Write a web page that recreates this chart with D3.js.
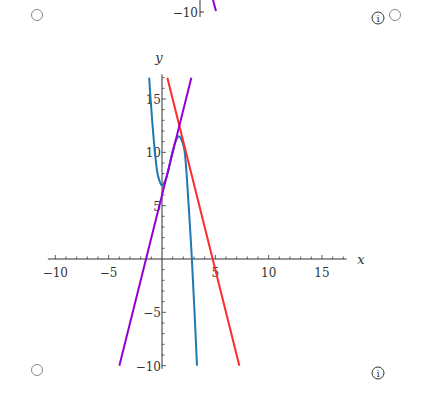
<!DOCTYPE html>
<html><head><meta charset="utf-8">
<script src="https://cdn.jsdelivr.net/npm/d3@7"></script>
<style>body{margin:0;background:#fff}</style>
</head><body>
<svg id="mainsvg" width="431" height="405"></svg>
<script>
const svg = d3.select('#mainsvg');
// data
const purpleLine = [[-4, -10], [2.75, 17]];
const redLine = [[0.5, 17], [7.25, -10]];
const blueCurve = [[-1.2,17],[-1.07,15],[-0.66,10],[-0.35,7.7],[0,6.9],[0.4,7.6],[0.9,9.7],[1.3,11.1],[1.6,11.5],[1.9,11.0],[2.1,10.2],[2.5,5],[2.8,0],[3.05,-5],[3.28,-10]];
const xLabels = [-10, -5, 5, 10, 15];
const yLabels = [-10, -5, 5, 10, 15];

const xScale = d3.scaleLinear().domain([0, 15]).range([162, 322]);
const yScale = d3.scaleLinear().domain([0, 15]).range([259, 99]);
const font = "'DejaVu Serif', serif";

const g = svg.append('g');
// axes lines
g.append('line').attr('x1', xScale(-10.7)).attr('x2', xScale(17.3))
  .attr('y1', yScale(0)).attr('y2', yScale(0)).attr('stroke', '#333');
g.append('line').attr('y1', yScale(-10.3)).attr('y2', yScale(17.3))
  .attr('x1', xScale(0)).attr('x2', xScale(0)).attr('stroke', '#333');

// minor ticks
const xt = d3.range(-10, 18).filter(d => d !== 0);
g.selectAll('.xt').data(xt).join('line')
  .attr('x1', d => xScale(d)).attr('x2', d => xScale(d))
  .attr('y1', yScale(0)).attr('y2', d => yScale(0) - (d % 5 === 0 ? 4 : 2.5))
  .attr('stroke', '#333').attr('stroke-width', 0.8);
const yt = d3.range(-10, 18).filter(d => d !== 0);
g.selectAll('.yt').data(yt).join('line')
  .attr('y1', d => yScale(d)).attr('y2', d => yScale(d))
  .attr('x1', xScale(0)).attr('x2', d => xScale(0) + (d % 5 === 0 ? 4 : 2.5))
  .attr('stroke', '#333').attr('stroke-width', 0.8);

g.selectAll('.xl').data(xLabels).join('text')
  .attr('x', d => xScale(d)).attr('y', yScale(0) + 18)
  .attr('text-anchor', 'middle').attr('font-family', font).attr('font-size', 12).attr('fill', '#333')
  .text(d => d < 0 ? '\u2212' + (-d) : d);
g.selectAll('.yl').data(yLabels).join('text')
  .attr('x', xScale(0) - 1).attr('y', d => yScale(d) + 5)
  .attr('text-anchor', 'end').attr('font-family', font).attr('font-size', 12).attr('fill', '#333')
  .text(d => d < 0 ? '\u2212' + (-d) : d);
g.append('text').attr('x', xScale(18.3)).attr('y', yScale(0) + 5)
  .attr('font-family', font).attr('font-style', 'italic').attr('font-size', 13).attr('fill', '#333').text('x');
g.append('text').attr('x', xScale(0) - 3).attr('y', yScale(18.5)).attr('text-anchor', 'middle')
  .attr('font-family', font).attr('font-style', 'italic').attr('font-size', 13).attr('fill', '#333').text('y');

const line = d3.line().x(d => xScale(d[0])).y(d => yScale(d[1]));
const curve = d3.line().curve(d3.curveCatmullRom).x(d => xScale(d[0])).y(d => yScale(d[1]));
g.append('path').attr('d', curve(blueCurve)).attr('fill', 'none').attr('stroke', '#1f77b4').attr('stroke-width', 2);
g.append('path').attr('d', line(redLine)).attr('fill', 'none').attr('stroke', '#ff2a2a').attr('stroke-width', 2);
g.append('path').attr('d', line(purpleLine)).attr('fill', 'none').attr('stroke', '#9400d3').attr('stroke-width', 2);

// remnant of panel above
g.append('text').attr('x', 198).attr('y', 17).attr('text-anchor', 'end')
  .attr('font-family', font).attr('font-size', 12).attr('fill', '#333').text('\u221210');
g.append('line').attr('x1', 200).attr('x2', 200).attr('y1', 0).attr('y2', 17).attr('stroke', '#333');
g.append('line').attr('x1', 200).attr('x2', 204).attr('y1', 12).attr('y2', 12).attr('stroke', '#333');
g.append('line').attr('x1', 213).attr('x2', 216).attr('y1', 0).attr('y2', 11).attr('stroke', '#9400d3').attr('stroke-width', 2);

// radio buttons & info icons
[[37, 15], [395, 15], [37, 370]].forEach(p => {
  svg.append('circle').attr('cx', p[0]).attr('cy', p[1]).attr('r', 5.5)
    .attr('fill', '#fff').attr('stroke', '#888');
});
[[378, 18], [378, 373]].forEach(p => {
  svg.append('circle').attr('cx', p[0]).attr('cy', p[1]).attr('r', 6).attr('fill', '#fff').attr('stroke', '#333');
  svg.append('text').attr('x', p[0]).attr('y', p[1] + 4).attr('text-anchor', 'middle')
    .attr('font-family', font).attr('font-size', 10).attr('fill', '#333').text('i');
});
</script>
</body></html>
